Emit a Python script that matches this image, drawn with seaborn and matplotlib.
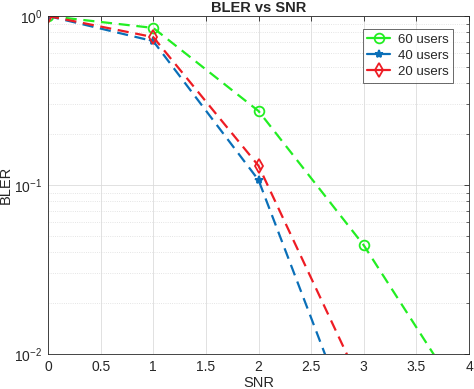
import pandas as pd
import matplotlib.pyplot as plt
import seaborn as sns
import numpy as np
from matplotlib.ticker import LogLocator, NullFormatter

sns.set_style('white')
plt.rcParams.update({
    'font.size': 10,
    'font.family': ['Liberation Sans', 'DejaVu Sans'],
    'mathtext.fontset': 'custom',
    'mathtext.rm': 'Liberation Sans',
    'axes.edgecolor': '#262626',
    'axes.linewidth': 0.6,
})

snr = [0, 1, 2, 3, 4]
bler_60 = [1.0, 0.85, 0.274, 0.044, 0.0047]
snr_short = [0, 1, 2, 3]
bler_40 = [1.0, 0.71, 0.107, 0.0025]
bler_20 = [1.0, 0.75, 0.13, 0.0061]

labels = ['60 users', '40 users', '20 users']
colors = ['#22ee22', '#0a6fb8', '#ee1c24']
markers = ['o', '*', 'd']

df = pd.concat([
    pd.DataFrame({'SNR': snr, 'BLER': bler_60, 'users': labels[0]}),
    pd.DataFrame({'SNR': snr_short, 'BLER': bler_40, 'users': labels[1]}),
    pd.DataFrame({'SNR': snr_short, 'BLER': bler_20, 'users': labels[2]}),
])

fig = plt.figure(figsize=(4.74, 3.89), dpi=100)
ax = fig.add_axes([48 / 474, 1 - 354 / 389, (469 - 48) / 474, (354 - 16) / 389])

for lab, col, mk in zip(labels, colors, markers):
    sub = df[df['users'] == lab]
    face = col if mk == '*' else 'none'
    sns.lineplot(data=sub, x='SNR', y='BLER', ax=ax, color=col, linestyle='--',
                 linewidth=1.6, marker=mk, markersize=7 if mk != '*' else 6,
                 markerfacecolor=face, markeredgecolor=col, markeredgewidth=1.3,
                 label=lab, dashes=False)
    ax.lines[-1].set_dashes([5, 3])

ax.set_yscale('log')
ax.set_xlim(0, 4)
ax.set_ylim(1e-2, 1)
ax.set_xticks(np.arange(0, 4.01, 0.5))
ax.set_xticklabels(['0', '0.5', '1', '1.5', '2', '2.5', '3', '3.5', '4'])
ax.yaxis.set_minor_locator(LogLocator(base=10, subs=np.arange(2, 10)))
ax.yaxis.set_minor_formatter(NullFormatter())

ax.grid(True, which='major', color='#dcdcdc', linewidth=0.6)
ax.grid(True, which='minor', axis='y', color='#dcdcdc', linewidth=0.6, linestyle=':')
ax.tick_params(which='both', direction='in', top=True, right=True, colors='#262626',
               labelcolor='#262626', labelsize=10, pad=4)
ax.tick_params(which='major', length=3.5, width=0.6)
ax.tick_params(which='minor', length=2, width=0.5)
ax.set_axisbelow(True)

ax.set_title('BLER vs SNR', fontweight='bold', fontsize=10.5, pad=3)
ax.set_xlabel('SNR', fontsize=10.5, labelpad=2)
ax.set_ylabel('BLER', fontsize=10.5, labelpad=1)

leg = ax.legend(loc='upper right', fontsize=9.5, frameon=True, fancybox=False,
                edgecolor='#262626', borderpad=0.35, handlelength=1.7, handletextpad=0.6,
                labelspacing=0.3, borderaxespad=0, bbox_to_anchor=(0.962, 0.962))
leg.get_frame().set_linewidth(0.6)
for h in leg.get_lines():
    h.set_linestyle('-')

fig.savefig('out.png', dpi=100)
